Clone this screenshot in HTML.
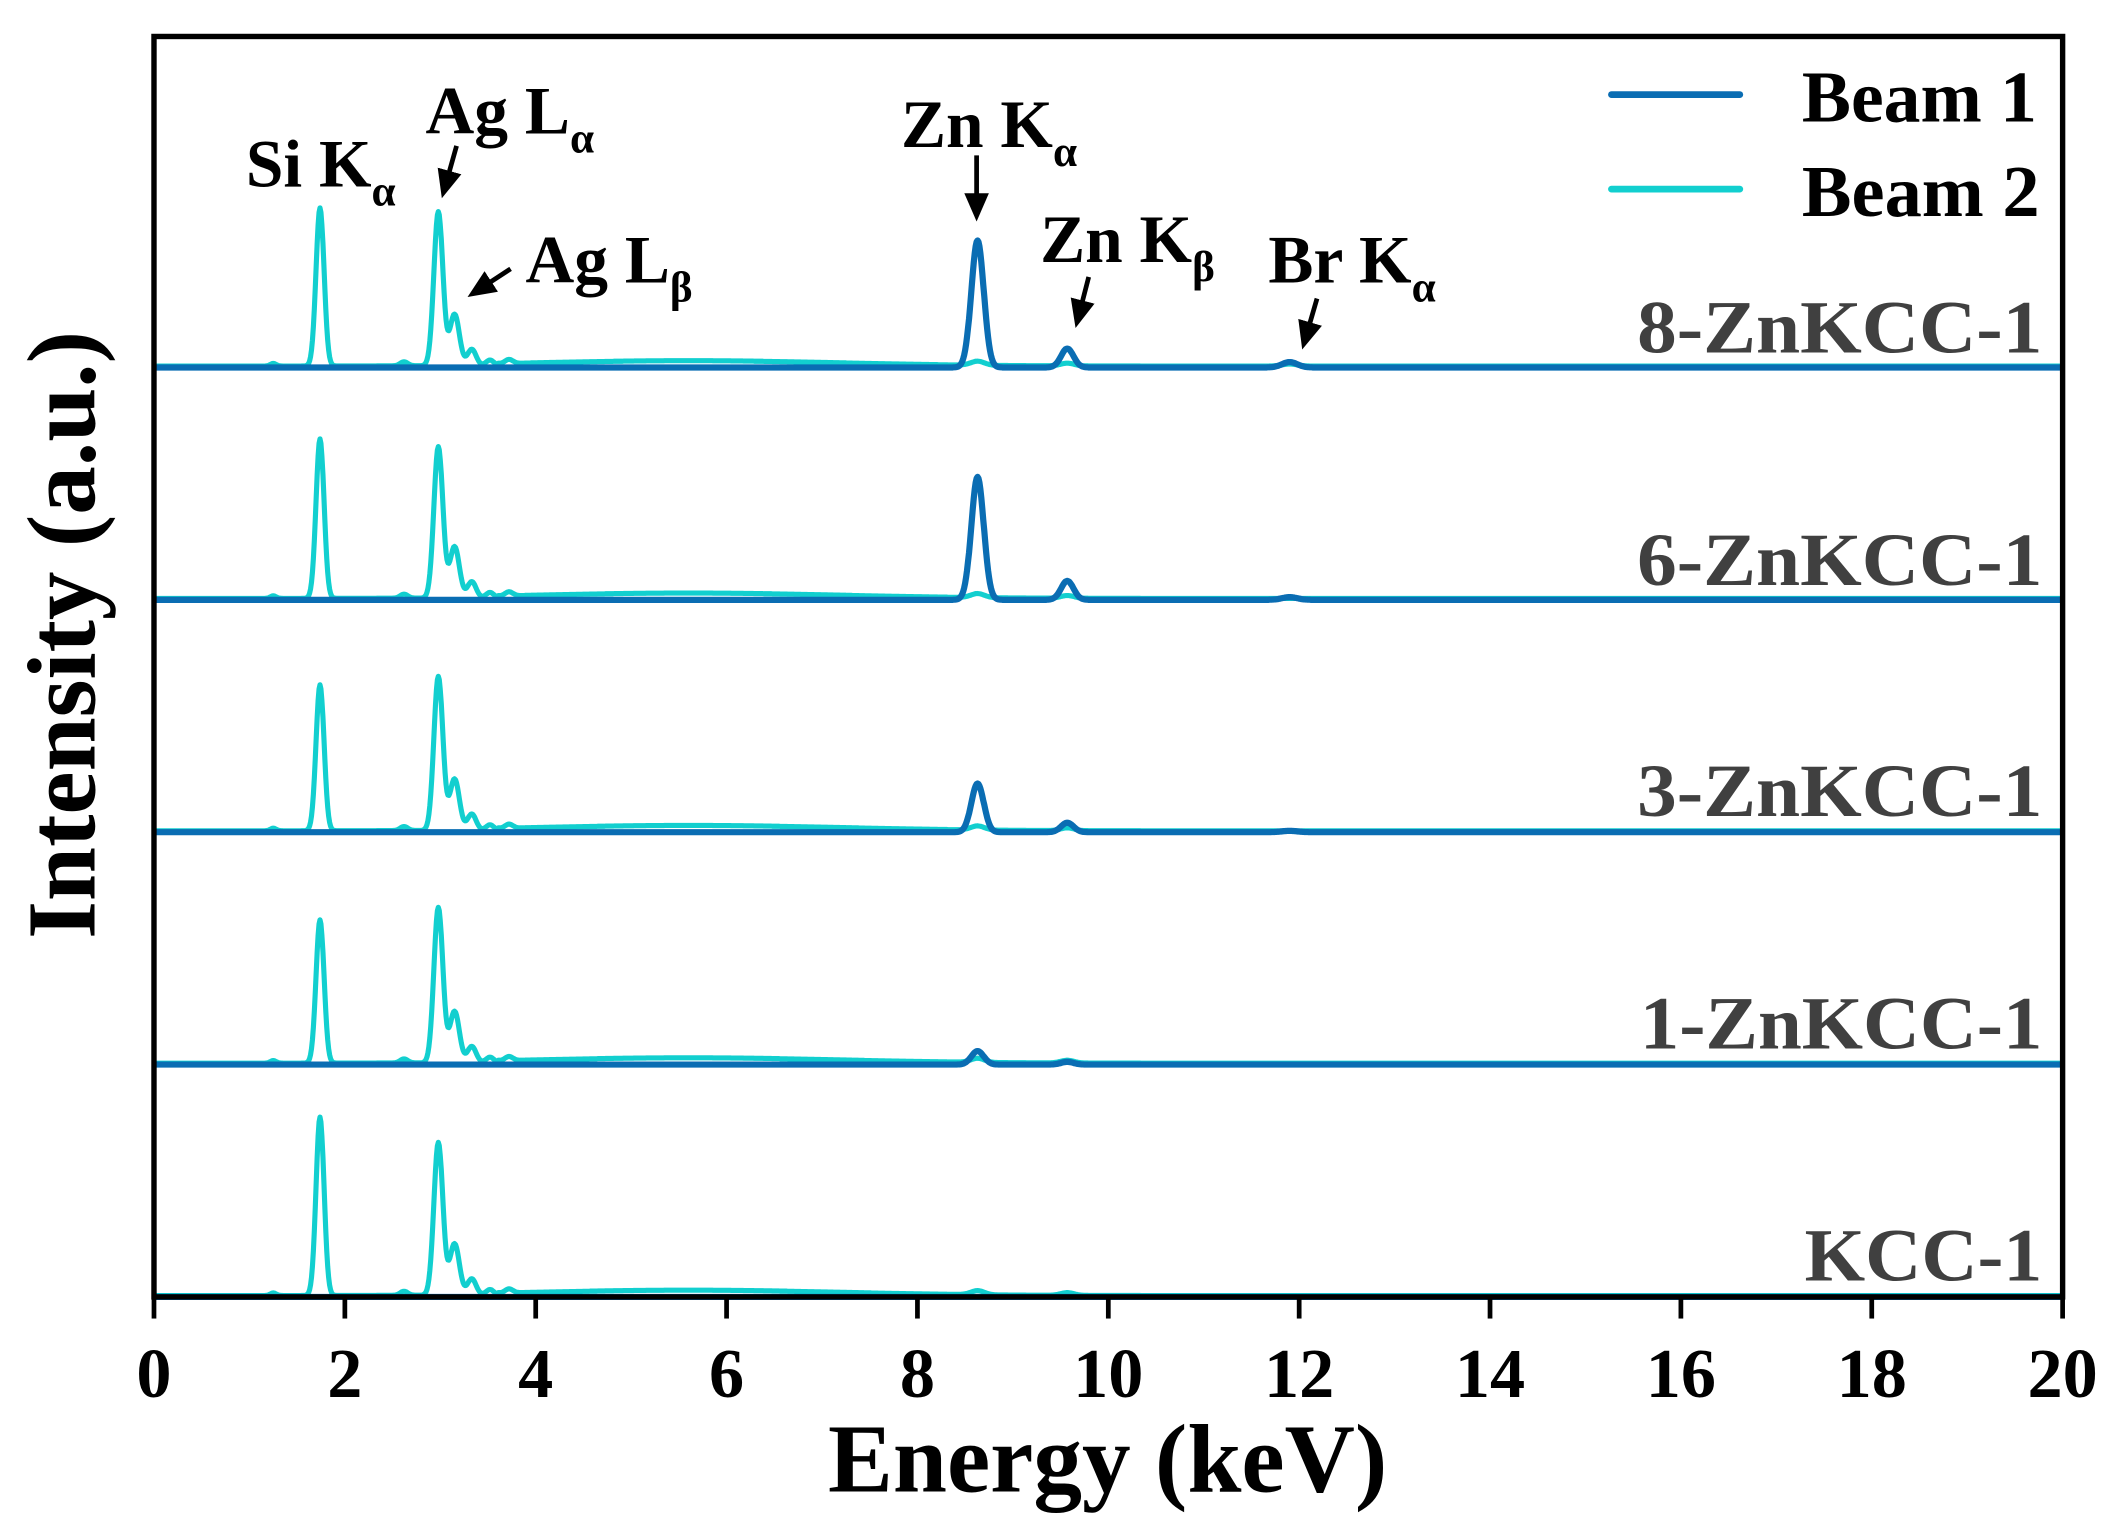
<!DOCTYPE html>
<html><head><meta charset="utf-8"><style>
html,body{margin:0;padding:0;background:#fff;}
svg{display:block;}
text{font-family:"Liberation Serif",serif;font-weight:bold;}
</style></head><body>
<svg id="s" width="2118" height="1532" viewBox="0 0 1568 1134" preserveAspectRatio="none" xmlns="http://www.w3.org/2000/svg">
<rect width="1568" height="1134" fill="#fff"/>
<g id="curves"></g>
<rect x="114" y="27" width="1413" height="933" fill="none" stroke="#000" stroke-width="4"/>
<g id="ticks" stroke="#000" stroke-width="3.5"></g>
<g font-size="52" text-anchor="middle" fill="#000">
<text x="114" y="1034">0</text><text x="255.3" y="1034">2</text><text x="396.6" y="1034">4</text><text x="537.9" y="1034">6</text><text x="679.2" y="1034">8</text><text x="820.5" y="1034">10</text><text x="961.8" y="1034">12</text><text x="1103.1" y="1034">14</text><text x="1244.4" y="1034">16</text><text x="1385.7" y="1034">18</text><text x="1527" y="1034">20</text>
</g>
<text x="820" y="1104" font-size="72" text-anchor="middle" textLength="414" lengthAdjust="spacingAndGlyphs">Energy (keV)</text>
<text transform="translate(70,470) rotate(-90)" font-size="72" text-anchor="middle" textLength="450" lengthAdjust="spacingAndGlyphs">Intensity (a.u.)</text>
<g font-size="56" fill="#404040" text-anchor="end">
<text x="1512" y="261" textLength="300" lengthAdjust="spacingAndGlyphs">8-ZnKCC-1</text>
<text x="1512" y="433" textLength="300" lengthAdjust="spacingAndGlyphs">6-ZnKCC-1</text>
<text x="1512" y="604" textLength="300" lengthAdjust="spacingAndGlyphs">3-ZnKCC-1</text>
<text x="1512" y="776" textLength="298" lengthAdjust="spacingAndGlyphs">1-ZnKCC-1</text>
<text x="1512" y="948" textLength="176" lengthAdjust="spacingAndGlyphs">KCC-1</text>
</g>
<line x1="1193" y1="70" x2="1288" y2="70" stroke="#0a6db3" stroke-width="5" stroke-linecap="round"/>
<line x1="1193" y1="140" x2="1288" y2="140" stroke="#12cfcf" stroke-width="5" stroke-linecap="round"/>
<g font-size="54" fill="#000">
<text x="1334" y="90" textLength="174" lengthAdjust="spacingAndGlyphs">Beam 1</text>
<text x="1334" y="160" textLength="176" lengthAdjust="spacingAndGlyphs">Beam 2</text>
</g>
<g font-size="50" fill="#000">
<text x="182" y="138">Si K<tspan font-size="32" dy="14">α</tspan></text>
<text x="315" y="99">Ag L<tspan font-size="32" dy="14">α</tspan></text>
<text x="389" y="209">Ag L<tspan font-size="32" dy="14">β</tspan></text>
<text x="667" y="109">Zn K<tspan font-size="32" dy="14">α</tspan></text>
<text x="770" y="194">Zn K<tspan font-size="32" dy="14">β</tspan></text>
<text x="939" y="209">Br K<tspan font-size="32" dy="14">α</tspan></text>
</g>
<defs><marker id="ah" markerWidth="7" markerHeight="7" refX="4" refY="3" orient="auto" markerUnits="strokeWidth"><path d="M0,0.4 L6,3 L0,5.6 Z" fill="#000"/></marker></defs>
<g stroke="#000" stroke-width="3.5" marker-end="url(#ah)">
<line x1="338" y1="108" x2="329" y2="140"/>
<line x1="378" y1="199" x2="352" y2="216"/>
<line x1="723" y1="115" x2="723" y2="157"/>
<line x1="806" y1="205" x2="798" y2="236"/>
<line x1="975" y1="221" x2="966" y2="252"/>
</g>
</svg>
<script>
(function(){
var X=function(e){return 114+e*70.65;};
var base=[272,444,616,788,960];
var si=[117,118,108,106,132], agA=[114,112,114,115,113];
var znA=[94,91,36,10,0], znB=[14,14,7,2,0], br=[4,2,1,0,0];
function g(e,c,s){var d=(e-c)/s;return Math.exp(-0.5*d*d);}
var G=document.getElementById('curves'),ns='http://www.w3.org/2000/svg';
function path(d,col,w){var p=document.createElementNS(ns,'path');p.setAttribute('d',d);p.setAttribute('fill','none');p.setAttribute('stroke',col);p.setAttribute('stroke-width',w);p.setAttribute('stroke-linejoin','round');G.appendChild(p);}
for(var i=0;i<5;i++){
 var b=base[i],dc='',db='';
 for(var e=0;e<=20.001;e+=0.01){
  var yc=si[i]*g(e,1.74,0.042)+agA[i]*g(e,2.98,0.047)+38*g(e,3.15,0.05)+12*g(e,3.33,0.045)+4*g(e,3.52,0.04)+3*g(e,3.72,0.04)
   +2*g(e,1.25,0.03)+3*g(e,2.62,0.04)+4*g(e,5.6,1.6)*(e>3.6?1:0.3)+3*g(e,8.63,0.07)+2*g(e,9.57,0.07)+(i==0?1.5*g(e,11.9,0.08):0);
  var yb=znA[i]*g(e,8.63,0.065)+znB[i]*g(e,9.57,0.065)+br[i]*g(e,11.9,0.08);
  var x=X(e).toFixed(1);
  dc+=(dc?'L':'M')+x+','+(b-1-yc).toFixed(1);
  db+=(db?'L':'M')+x+','+(b-yb).toFixed(1);
 }
 path(dc,'#12cfcf',3.8);
 path(db,'#0a6db3',4.6);
}
var T=document.getElementById('ticks');
for(var k=0;k<=10;k++){var l=document.createElementNS(ns,'line');var x=X(2*k);l.setAttribute('x1',x);l.setAttribute('x2',x);l.setAttribute('y1',960);l.setAttribute('y2',976);T.appendChild(l);}
})();
</script>
</body></html>
